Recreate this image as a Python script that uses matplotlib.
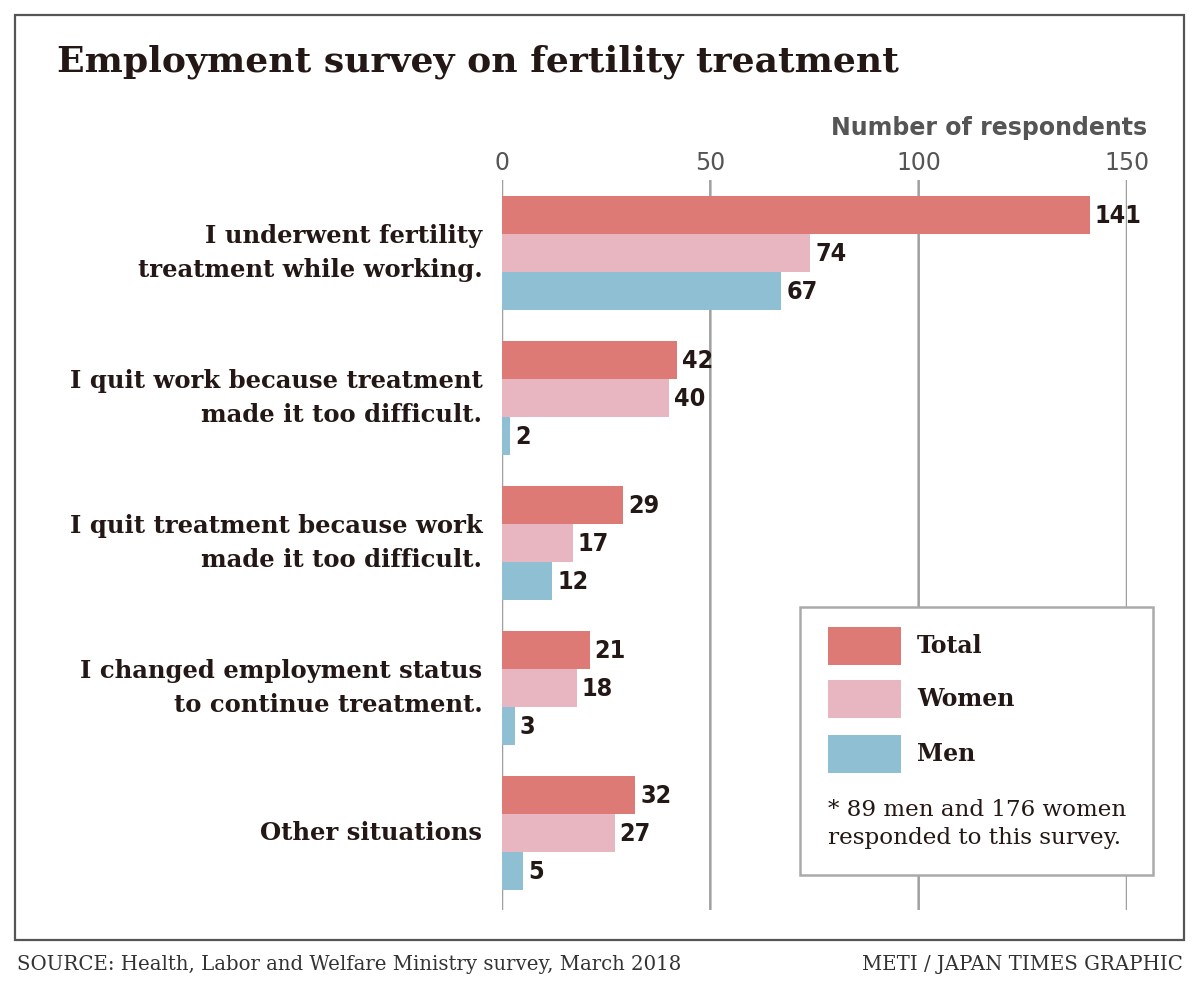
import matplotlib
matplotlib.use("Agg")
import matplotlib.pyplot as plt
from matplotlib.patches import Rectangle
import numpy as np

categories = [
    "I underwent fertility\ntreatment while working.",
    "I quit work because treatment\nmade it too difficult.",
    "I quit treatment because work\nmade it too difficult.",
    "I changed employment status\nto continue treatment.",
    "Other situations",
]
total = [141, 42, 29, 21, 32]
women = [74, 40, 17, 18, 27]
men = [67, 2, 12, 3, 5]
series_names = ["Total", "Women", "Men"]
colors = ["#de7a76", "#e8b6c1", "#8fbfd2"]
ticks = [0, 50, 100, 150]

W, H = 1200, 998
DARK = "#231815"
GRAY = "#555555"
GRID = "#a0a0a0"
SERIF = ["DejaVu Serif"]
SANS = ["DejaVu Sans"]


def fx(px):
    return px / W


def fy(py):
    return 1 - py / H


fig = plt.figure(figsize=(W / 100, H / 100), dpi=100)
fig.patch.set_facecolor("white")

# outer frame
fig.patches.append(Rectangle((fx(15), fy(940)), fx(1184) - fx(15), fy(15) - fy(940),
                             transform=fig.transFigure, fill=False,
                             edgecolor="#555555", linewidth=1.6))

ax = fig.add_axes([fx(502), fy(910), fx(1127) - fx(502), fy(180) - fy(910)])
ax.set_xlim(0, 150)
ax.set_ylim(4.531, -0.503)
for s in ax.spines.values():
    s.set_visible(False)
ax.set_xticks([])
ax.set_yticks([])
for t in ticks:
    ax.axvline(t, color=GRID, lw=1.8, zorder=0, snap=False)

y = np.arange(len(categories))
bh = 0.262
for k, (vals, c) in enumerate(zip([total, women, men], colors)):
    yy = y + (k - 1) * bh
    ax.barh(yy, vals, height=bh, color=c, edgecolor="none", zorder=2)
    for yi, v in zip(yy, vals):
        ax.text(v + 1.2, yi + 0.01, str(v), ha="left", va="center", fontsize=18,
                fontweight="bold", family=SANS, fontstretch="condensed",
                color=DARK, clip_on=False)

for yi, lab in zip(y, categories):
    ax.text(-4.7, yi, lab, ha="right", va="center", fontsize=17.5,
            fontweight="bold", family=SERIF, color=DARK, linespacing=1.5,
            clip_on=False)

# tick labels above
for t in ticks:
    fig.text(fx(502 + t * 625 / 150), fy(163), str(t), ha="center", va="center",
             fontsize=17, family=SANS, color=GRAY)
fig.text(fx(1147), fy(128), "Number of respondents", ha="right", va="center",
         fontsize=17, family=SANS, fontweight="bold", color=GRAY)

# title
fig.text(fx(57), fy(62), "Employment survey on fertility treatment", ha="left",
         va="center", fontsize=26, fontweight="heavy", family=SERIF, color=DARK)

# legend box
fig.patches.append(Rectangle((fx(800), fy(875)), fx(1153) - fx(800), fy(607) - fy(875),
                             transform=fig.transFigure, facecolor="white",
                             edgecolor="#aaaaaa", linewidth=1.8, zorder=5))
for name, c, top in zip(series_names, colors, [627, 680, 735]):
    fig.patches.append(Rectangle((fx(828), fy(top + 38)), fx(901) - fx(828), fy(top) - fy(top + 38),
                                 transform=fig.transFigure, facecolor=c,
                                 edgecolor="none", zorder=6))
    fig.text(fx(917), fy(top + 19), name, ha="left", va="center", fontsize=17,
             fontweight="bold", family=SERIF, color=DARK, zorder=7)
fig.text(fx(828), fy(824), "* 89 men and 176 women\nresponded to this survey.",
         ha="left", va="center", fontsize=16.6, family=SERIF, color=DARK,
         linespacing=1.4, zorder=7)

# footer
fig.text(fx(17), fy(965), "SOURCE: Health, Labor and Welfare Ministry survey, March 2018",
         ha="left", va="center", fontsize=14.2, family=SERIF, color="#333333")
fig.text(fx(1183), fy(965), "METI / JAPAN TIMES GRAPHIC", ha="right", va="center",
         fontsize=14.2, family=SERIF, color="#333333")

fig.savefig("out.png", dpi=100)
